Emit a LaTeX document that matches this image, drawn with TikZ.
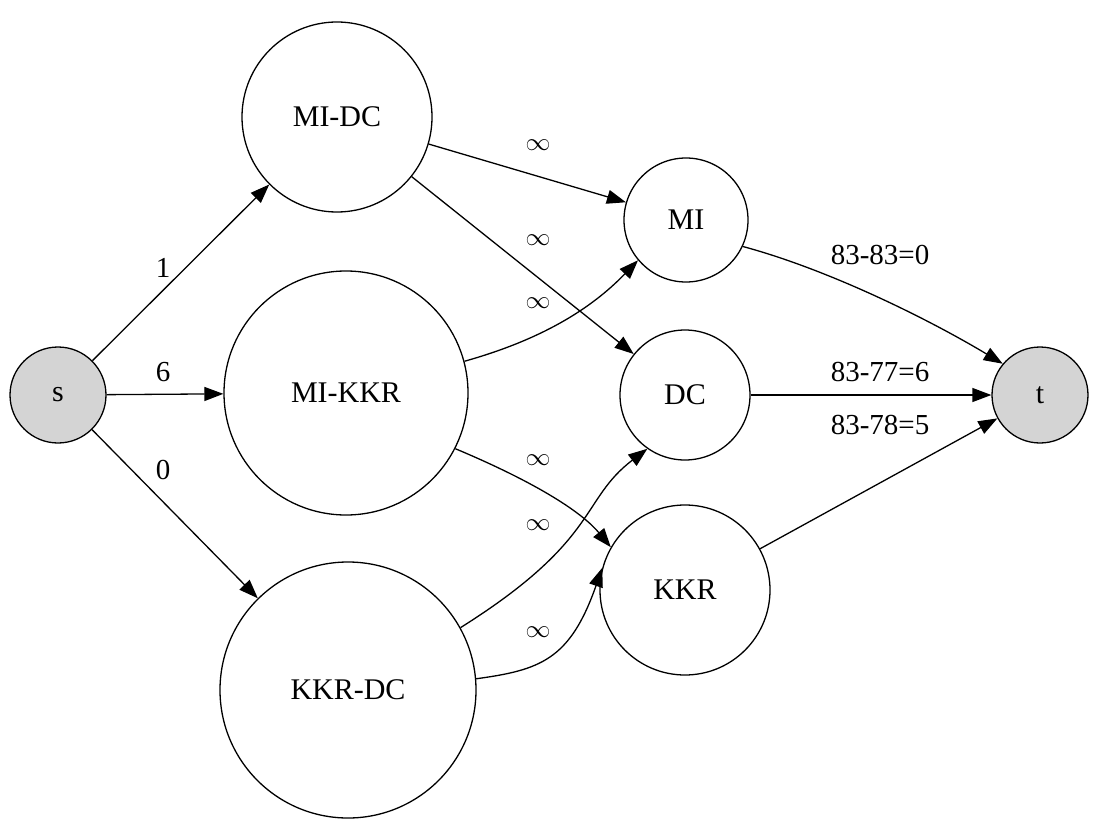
\documentclass[tikz,border=0pt]{standalone}
\usepackage{fontspec}
\setmainfont{Liberation Serif}
\usetikzlibrary{arrows.meta}
\tikzset{
	vtx/.style={circle, draw, line width=1.3pt, inner sep=0pt, font=\fontsize{30}{30}\selectfont},
	term/.style={vtx, fill=black!17},
	wlabel/.style={font=\fontsize{29}{29}\selectfont},
	arc/.style={line width=1.3pt, -{Triangle[length=19pt,width=14pt]}}
}
\begin{document}
\begin{tikzpicture}[x=1pt,y=-1pt]
	\useasboundingbox (0,0) rectangle (1098,832);
	%\draw[help lines] (0,0) grid (1098,832);
	\node[term, minimum size=96pt] (s) at (58,395) {s};
	\node[term, minimum size=96pt] (t) at (1040,395) {t};
	\node[vtx, minimum size=190pt] (midc) at (337,117) {MI-DC};
	\node[vtx, minimum size=244pt] (mikkr) at (346,393) {MI-KKR};
	\node[vtx, minimum size=256pt] (kkrdc) at (348,690) {KKR-DC};
	\node[vtx, minimum size=124pt] (mi) at (686,220) {MI};
	\node[vtx, minimum size=130pt] (dc) at (685,395) {DC};
	\node[vtx, minimum size=170pt] (kkr) at (685,590) {KKR};
	
	\draw[arc] (s) -- (midc);
	\draw[arc] (s) -- (mikkr);
	\draw[arc] (s) -- (kkrdc);
	\draw[arc] (midc) -- (mi);
	\draw[arc] (midc) -- (dc);
	\draw[arc] (mikkr.15) .. controls (540,340) and (590,310) .. (mi.220);
	\draw[arc] (mikkr.-27) .. controls (530,480) and (580,510) .. (kkr.150);
	\draw[arc] (kkrdc.29) .. controls (600,540) and (580,500) .. (dc.235);
	\draw[arc] (kkrdc.5) .. controls (540,670) and (570,660) .. (kkr.165);
	\draw[arc] (mi.-25) .. controls (830,270) and (930,320) .. (t.140);
	\draw[arc] (dc) -- (t);
	\draw[arc] (kkr) -- (t);
	
	\node[wlabel] (w1) at (163,268) {1};
	\node[wlabel] (w2) at (163,372) {6};
	\node[wlabel] (w3) at (163,470) {0};
	\foreach \y [count=\i] in {145,240,303,460,525,632}
		\node[wlabel] (inf\i) at (538,\y) {$\infty$};
	\node[wlabel] (r1) at (880,255) {83-83=0};
	\node[wlabel] (r2) at (880,372) {83-77=6};
	\node[wlabel] (r3) at (880,425) {83-78=5};
\end{tikzpicture}
\end{document}
